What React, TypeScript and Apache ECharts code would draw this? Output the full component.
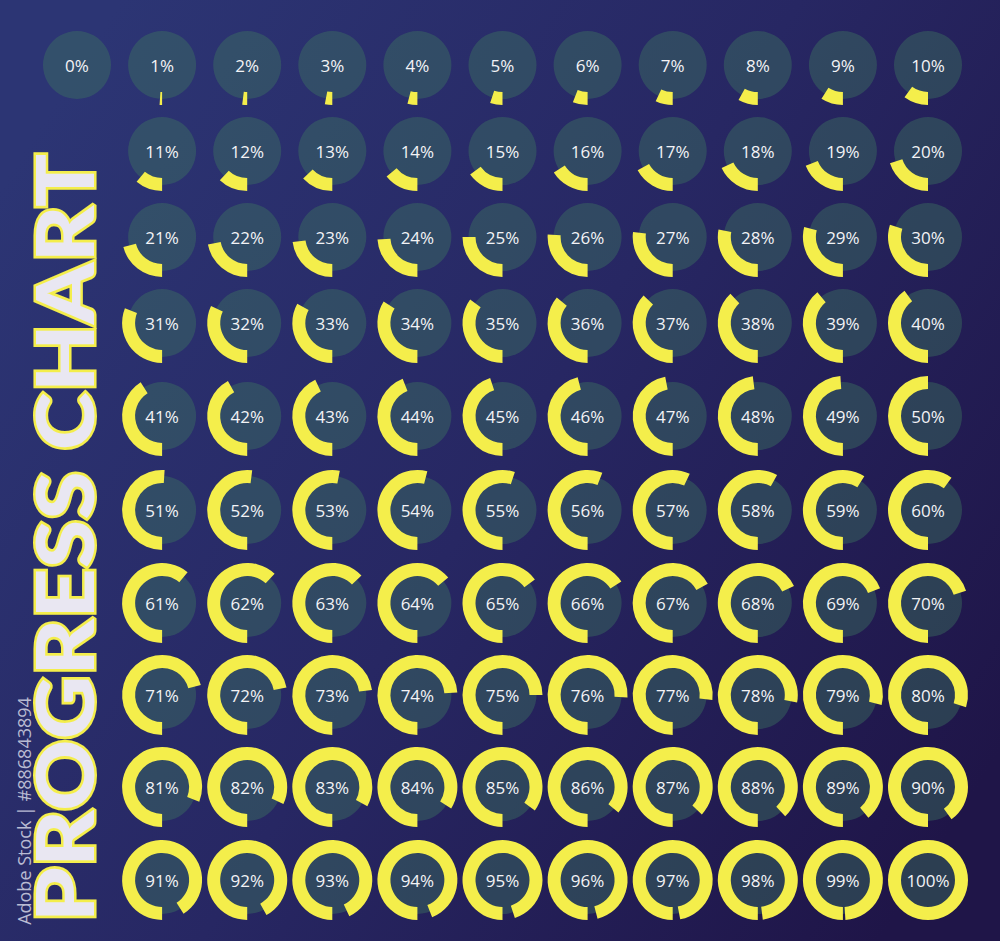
import React, { useEffect, useRef } from "react";
import * as echarts from "echarts";

// Progress values, one list per row of the grid
const row0: number[] = [0, 1, 2, 3, 4, 5, 6, 7, 8, 9, 10];
const row1: number[] = [11, 12, 13, 14, 15, 16, 17, 18, 19, 20];
const row2: number[] = [21, 22, 23, 24, 25, 26, 27, 28, 29, 30];
const row3: number[] = [31, 32, 33, 34, 35, 36, 37, 38, 39, 40];
const row4: number[] = [41, 42, 43, 44, 45, 46, 47, 48, 49, 50];
const row5: number[] = [51, 52, 53, 54, 55, 56, 57, 58, 59, 60];
const row6: number[] = [61, 62, 63, 64, 65, 66, 67, 68, 69, 70];
const row7: number[] = [71, 72, 73, 74, 75, 76, 77, 78, 79, 80];
const row8: number[] = [81, 82, 83, 84, 85, 86, 87, 88, 89, 90];
const row9: number[] = [91, 92, 93, 94, 95, 96, 97, 98, 99, 100];
const rows: number[][] = [row0, row1, row2, row3, row4, row5, row6, row7, row8, row9];

const titleText = "PROGRESS CHART";
const creditText = "Adobe Stock | #886843894";

// Layout (pixels)
const COL_X0 = 77;
const COL_STEP = 85.1;
const ROW_Y = [65, 151, 237, 323, 416, 510, 603, 695, 787, 880];

const YELLOW = "#f4ee4b";
const DISC = "rgba(62,118,96,0.42)";

export default function App() {
  const ref = useRef<HTMLDivElement>(null);

  useEffect(() => {
    if (!ref.current) return;
    const chart = echarts.init(ref.current, null, { renderer: "svg" });

    const series: any[] = [];
    rows.forEach((row, r) => {
      const offset = r === 0 ? 0 : 1;
      row.forEach((v, i) => {
        const cx = COL_X0 + COL_STEP * (i + offset);
        const cy = ROW_Y[r];
        series.push({
          type: "pie",
          center: [cx, cy],
          radius: 34,
          silent: true,
          label: { show: false },
          labelLine: { show: false },
          emphasis: { disabled: true },
          itemStyle: { color: DISC, borderWidth: 0 },
          data: [{ value: 1, name: "disc" + v }],
          z: 1,
        });
        series.push({
          type: "gauge",
          center: [cx, cy],
          radius: 40,
          startAngle: -90,
          endAngle: -450,
          clockwise: true,
          min: 0,
          max: 100,
          silent: true,
          progress: { show: true, width: 13, roundCap: false, itemStyle: { color: YELLOW } },
          axisLine: { show: false, lineStyle: { width: 0 } },
          pointer: { show: false },
          anchor: { show: false },
          axisTick: { show: false },
          splitLine: { show: false },
          axisLabel: { show: false },
          title: { show: false },
          detail: {
            show: true,
            offsetCenter: [0, 0],
            formatter: "{value}%",
            color: "#f3f3f6",
            fontSize: 17,
            fontWeight: 500,
            fontFamily: "Open Sans",
            valueAnimation: false,
          },
          data: [{ value: v }],
          z: 2,
        });
      });
    });

    chart.setOption({
      animation: false,
      backgroundColor: {
        type: "linear",
        x: 0,
        y: 0.2,
        x2: 1,
        y2: 0.8,
        colorStops: [
          { offset: 0, color: "#2c3574" },
          { offset: 0.5, color: "#272763" },
          { offset: 1, color: "#1f1548" },
        ],
      },
      series,
      graphic: [
        {
          type: "text",
          x: 63,
          y: 538,
          rotation: Math.PI / 2,
          scaleX: 1.1,
          z: 10,
          style: {
            text: titleText,
            fontFamily: "Lato",
            fontWeight: 900,
            fontSize: 80,
            fill: "#e9e7f2",
            stroke: YELLOW,
            lineWidth: 5,
            align: "center",
            verticalAlign: "middle",
            textAlign: "center",
            textVerticalAlign: "middle",
          },
        },
        {
          type: "text",
          x: 24,
          y: 811,
          rotation: Math.PI / 2,
          z: 10,
          style: {
            text: creditText,
            fontFamily: "Open Sans",
            fontSize: 18,
            fill: "#b9bbd2",
            align: "center",
            verticalAlign: "middle",
            textAlign: "center",
            textVerticalAlign: "middle",
          },
        },
      ],
    });

    return () => chart.dispose();
  }, []);

  return (
    <div
      ref={ref}
      style={{ position: "absolute", left: 0, top: 0, width: 1000, height: 941 }}
    />
  );
}
